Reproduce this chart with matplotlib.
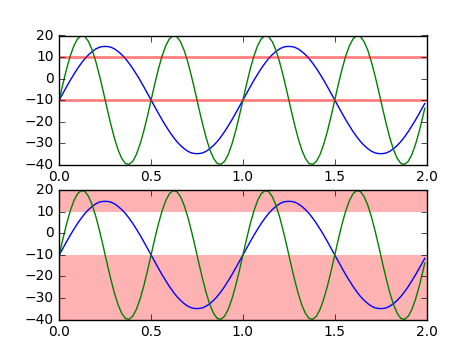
import matplotlib
matplotlib.use("Agg")
import matplotlib.pyplot as plt

plt.style.use("classic")

# x samples, step 0.02, last sample at 1.99 (data stops just short of the axis edge)
x = [i / 50 for i in range(100)] + [1.99]

# blue curve
blue = [-10, -6.9, -3.8, -0.8, 2.0, 4.7, 7.1, 9.3, 11.1, 12.6, 13.8, 14.6, 14.9,
        14.9, 14.6, 13.8, 12.6, 11.1, 9.3, 7.1, 4.7, 2.0, -0.8, -3.8, -6.9, -10,
        -13.1, -16.2, -19.2, -22.0, -24.7, -27.1, -29.3, -31.1, -32.6, -33.8, -34.6,
        -34.9, -34.9, -34.6, -33.8, -32.6, -31.1, -29.3, -27.1, -24.7, -22.0, -19.2,
        -16.2, -13.1, -10,
        -6.9, -3.8, -0.8, 2.0, 4.7, 7.1, 9.3, 11.1, 12.6, 13.8, 14.6, 14.9,
        14.9, 14.6, 13.8, 12.6, 11.1, 9.3, 7.1, 4.7, 2.0, -0.8, -3.8, -6.9, -10,
        -13.1, -16.2, -19.2, -22.0, -24.7, -27.1, -29.3, -31.1, -32.6, -33.8, -34.6,
        -34.9, -34.9, -34.6, -33.8, -32.6, -31.1, -29.3, -27.1, -24.7, -22.0, -19.2,
        -16.2, -13.1, -11.6]

# green curve
green = [-10, -2.5, 4.5, 10.5, 15.3, 18.5, 19.9, 19.5, 17.1, 13.1, 7.6, 1.0, -6.2,
         -13.8, -21.0, -27.6, -33.1, -37.1, -39.5, -39.9, -38.5, -35.3, -30.5, -24.5,
         -17.5, -10,
         -2.5, 4.5, 10.5, 15.3, 18.5, 19.9, 19.5, 17.1, 13.1, 7.6, 1.0, -6.2,
         -13.8, -21.0, -27.6, -33.1, -37.1, -39.5, -39.9, -38.5, -35.3, -30.5, -24.5,
         -17.5, -10,
         -2.5, 4.5, 10.5, 15.3, 18.5, 19.9, 19.5, 17.1, 13.1, 7.6, 1.0, -6.2,
         -13.8, -21.0, -27.6, -33.1, -37.1, -39.5, -39.9, -38.5, -35.3, -30.5, -24.5,
         -17.5, -10,
         -2.5, 4.5, 10.5, 15.3, 18.5, 19.9, 19.5, 17.1, 13.1, 7.6, 1.0, -6.2,
         -13.8, -21.0, -27.6, -33.1, -37.1, -39.5, -39.9, -38.5, -35.3, -30.5, -24.5,
         -17.5, -13.8]

thresholds = [10, -10]
ylim = [-40, 20]
xlim = [0.0, 2.0]

fig, (ax1, ax2) = plt.subplots(2, 1, figsize=(4.74, 3.55), dpi=100)

# top: curves with threshold lines
ax1.plot(x, blue, color="b")
ax1.plot(x, green, color="g")
for t in thresholds:
    ax1.axhline(t, color="red", lw=2, alpha=0.5)
ax1.set_xlim(xlim)
ax1.set_ylim(ylim)

# bottom: curves with shaded bands outside the thresholds
ax2.axhspan(max(thresholds), ylim[1], color="red", alpha=0.3, lw=0)
ax2.axhspan(ylim[0], min(thresholds), color="red", alpha=0.3, lw=0)
ax2.plot(x, blue, color="b")
ax2.plot(x, green, color="g")
ax2.set_xlim(xlim)
ax2.set_ylim(ylim)

for ax in (ax1, ax2):
    ax.tick_params(labelsize=10)

fig.savefig("out.png", dpi=100)
